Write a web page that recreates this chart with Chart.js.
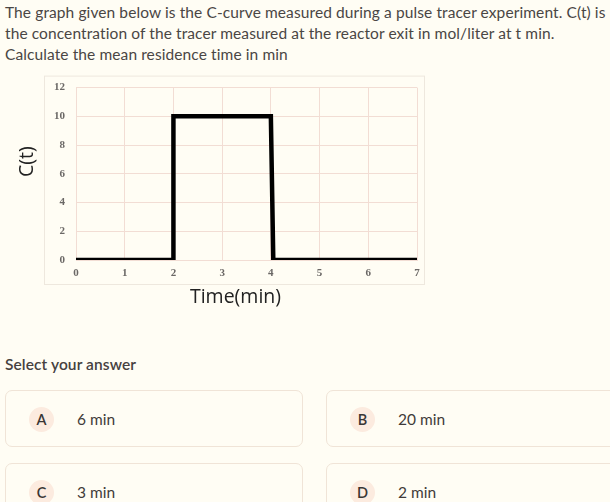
<!DOCTYPE html>
<html>
<head>
<meta charset="utf-8">
<script src="https://cdn.jsdelivr.net/npm/chart.js@4.4.1/dist/chart.umd.min.js"></script>
<style>
  html, body { margin: 0; padding: 0; background: #fffdf4; }
  body { width: 610px; height: 502px; position: relative; overflow: hidden; font-family: Lato, "Open Sans", sans-serif; color: #4a4644; }
  .q { position: absolute; left: 5px; top: 2px; width: 610px; font-size: 15.5px; letter-spacing: 0.1px; line-height: 21px; white-space: nowrap; }
  .sel { position: absolute; left: 5px; top: 354px; font-size: 15.5px; letter-spacing: 0.1px; line-height: 20px; font-weight: 600; color: #46413f; }
  .box { position: absolute; height: 55px; border: 1px solid #f0e4d7; border-radius: 7px; }
  .circ { position: absolute; left: 23px; top: 16px; width: 25px; height: 25px; border-radius: 50%; background: #fcebdf; text-align: center; line-height: 25px; font-size: 14.5px; font-weight: 600; color: #3a3634; }
  .ans { position: absolute; left: 71px; top: 18px; font-size: 15.5px; line-height: 21px; color: #3f3b39; }
  #wrap { position: absolute; left: 0; top: 70px; width: 440px; height: 240px; }
</style>
</head>
<body>
<div class="q">The graph given below is the C-curve measured during a pulse tracer experiment. C(t) is<br>the concentration of the tracer measured at the reactor exit in mol/liter at t min.<br>Calculate the mean residence time in min</div>

<div id="wrap"><canvas id="chart" width="440" height="240"></canvas></div>

<div class="sel">Select your answer</div>
<div class="box" style="left:5px;top:390px;width:296px;"><div class="circ">A</div><div class="ans">6 min</div></div>
<div class="box" style="left:326px;top:390px;width:300px;"><div class="circ">B</div><div class="ans">20 min</div></div>
<div class="box" style="left:5px;top:463px;width:296px;"><div class="circ">C</div><div class="ans">3 min</div></div>
<div class="box" style="left:326px;top:463px;width:300px;"><div class="circ">D</div><div class="ans">2 min</div></div>

<script>
// C-curve: time in min, concentration in mol/liter
const timeMin = [0, 2, 2, 4, 4.05, 7];
const concentration = [0, 0, 10, 10, 0, 0];
const xTicks = [0, 1, 2, 3, 4, 5, 6, 7];
const yTicks = [0, 2, 4, 6, 8, 10, 12];
const xTitle = 'Time(min)';
const yTitle = 'C(t)';

const gridColor = '#f2ddd4';
const tickFont = { family: '"Liberation Serif", serif', size: 11, weight: 'bold' };

// light frame round the graph image, and the axis titles which sit a bit off centre
const framePlugin = {
    id: 'frame',
    beforeDraw(chart) {
        const a = chart.chartArea;
        const c = chart.ctx;
        c.save();
        c.strokeStyle = '#eee8de';
        c.lineWidth = 1;
        c.strokeRect(a.left - 31.5, a.top - 11.5, a.right - a.left + 39, a.bottom - a.top + 36);
        c.restore();
    },
    afterDraw(chart) {
        const a = chart.chartArea;
        const c = chart.ctx;
        c.save();
        c.fillStyle = '#222';
        c.font = '19.5px "Open Sans", sans-serif';
        c.textAlign = 'center';
        c.textBaseline = 'middle';
        c.fillText(xTitle, (a.left + a.right) / 2 - 11, a.bottom + 37);
        c.translate(a.left - 49, a.top + 74);
        c.rotate(-Math.PI / 2);
        c.fillText(yTitle, 0, 0);
        c.restore();
    }
};

new Chart(document.getElementById('chart'), {
    type: 'line',
    data: {
        datasets: [{
            data: timeMin.map((t, i) => ({ x: t, y: concentration[i] })),
            borderColor: '#000',
            borderWidth: 4.5,
            borderCapStyle: 'round',
            borderJoinStyle: 'miter',
            pointRadius: 0,
            tension: 0,
            fill: false
        }]
    },
    options: {
        responsive: false,
        animation: false,
        layout: { padding: { top: 16, right: 23, left: 0, bottom: 0 } },
        plugins: { legend: { display: false }, tooltip: { enabled: false } },
        scales: {
            x: {
                type: 'linear',
                min: 0,
                max: 7,
                afterBuildTicks: s => { s.ticks = xTicks.map(v => ({ value: v })); },
                afterFit: s => { s.height = 50; },
                ticks: { font: tickFont, color: '#6b6866', padding: 7 },
                grid: { color: gridColor, drawTicks: false },
                border: { color: gridColor }
            },
            y: {
                min: 0,
                max: 12,
                afterBuildTicks: s => { s.ticks = yTicks.map(v => ({ value: v })); },
                afterFit: s => { s.width = 76; },
                ticks: { font: tickFont, color: '#6b6866', padding: 11 },
                grid: { color: gridColor, drawTicks: false },
                border: { color: gridColor }
            }
        }
    },
    plugins: [framePlugin]
});
</script>
</body>
</html>
